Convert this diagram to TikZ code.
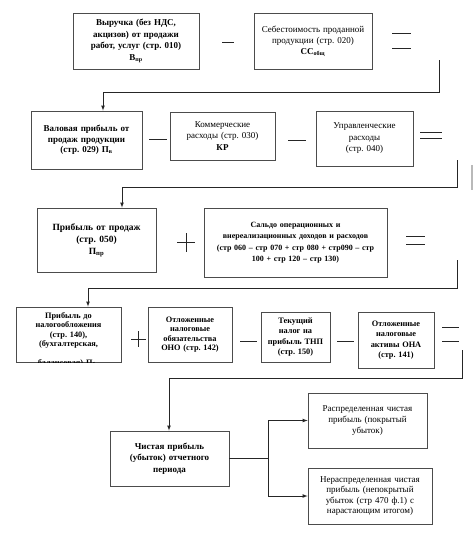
\documentclass[tikz,border=0pt]{standalone}
\usepackage{fontspec}
\setmainfont{Liberation Serif}
\frenchspacing
\begin{document}
\begin{tikzpicture}[x=1pt,y=-1pt]
			% Styles
			\tikzstyle{boite}=[draw=black!70,line width=0.8pt,inner sep=0pt,align=center]
			\tikzstyle{fleche}=[->,>=latex,line width=0.7pt,black!85]
			\tikzstyle{trait}=[-,line width=0.7pt,black!85]
			\tikzstyle{signe}=[-,line width=0.6pt,black!85]
			\tikzstyle{gras}=[font=\fontsize{9}{11.5}\selectfont\bfseries]
			\tikzstyle{maigre}=[font=\fontsize{9}{11.5}\selectfont]
			\tikzstyle{petit}=[font=\fontsize{8.3}{9.5}\selectfont\bfseries]
			% Cadre
			\useasboundingbox (0,0) rectangle (474,539);
			% Noeuds
			\node[boite,gras,minimum width=126pt,minimum height=56pt,text width=122pt] (Vpr) at (136,41) {Выручка (без НДС,\\ акцизов) от продажи\\ работ, услуг (стр. 010)\\ В\textsubscript{пр}};
			\node[boite,maigre,font=\fontsize{9}{11}\selectfont,minimum width=118pt,minimum height=56pt,text width=116pt] (CC) at (313,41) {Себестоимость проданной\\ продукции (стр. 020)\\ \textbf{СС\textsubscript{общ}}};
			%
			\node[boite,gras,font=\fontsize{9}{10.5}\selectfont\bfseries,minimum width=111pt,minimum height=58pt,text width=107pt] (Pv) at (86.5,140) {Валовая прибыль от\\ продаж продукции\\ (стр. 029) П\textsubscript{в}};
			\node[boite,maigre,minimum width=105pt,minimum height=48pt,text width=101pt] (KR) at (222.5,136) {Коммерческие\\ расходы (стр. 030)\\ \textbf{КР}};
			\node[boite,maigre,minimum width=97pt,minimum height=55pt,text width=93pt] (UR) at (364.5,138.5) {Управленческие\\ расходы\\ (стр. 040)};
			%
			\node[boite,gras,font=\fontsize{9.5}{12}\selectfont\bfseries,minimum width=119pt,minimum height=64pt,text width=115pt] (Ppr) at (96.5,240) {Прибыль от продаж\\ (стр. 050)\\ П\textsubscript{пр}};
			\node[boite,gras,font=\fontsize{8}{11.5}\selectfont\bfseries,minimum width=183pt,minimum height=69pt,text width=179pt] (Saldo) at (295.5,242.5) {Сальдо операционных и\\ внереализационных доходов и расходов\\ (стр 060 – стр 070 + стр 080 + стр090 – стр\\ 100 + стр 120 – стр 130)};
			%
			\node[boite,minimum width=105pt,minimum height=55pt] (Pdn) at (68.5,334.5) {};
			\begin{scope}
				\clip (Pdn.north west) rectangle (Pdn.south east);
				\node[petit,anchor=north,inner sep=0pt,align=center,text width=101pt] (Pdntxt) at (68.5,312) {Прибыль до\\ налогообложения\\ (стр. 140),\\ (бухгалтерская,\\[9pt] балансовая) П\textsubscript{бп}};
			\end{scope}
			\node[boite,petit,minimum width=84pt,minimum height=55pt,text width=82pt] (ONO) at (190,334.5) {Отложенные\\ налоговые\\ обязательства\\ ОНО (стр. 142)};
			\node[boite,petit,font=\fontsize{8.3}{10.3}\selectfont\bfseries,minimum width=69pt,minimum height=50pt,text width=67pt] (TNP) at (295.5,337) {Текущий\\ налог на\\ прибыль ТНП\\ (стр. 150)};
			\node[boite,petit,font=\fontsize{8.3}{10.3}\selectfont\bfseries,minimum width=76pt,minimum height=56pt,text width=74pt] (ONA) at (396,340) {Отложенные\\ налоговые\\ активы ОНА\\ (стр. 141)};
			%
			\node[boite,gras,minimum width=119pt,minimum height=55pt,text width=115pt] (ChP) at (169.5,458.5) {Чистая прибыль\\ (убыток) отчетного\\ периода};
			\node[boite,maigre,font=\fontsize{9}{11}\selectfont,minimum width=119pt,minimum height=55pt,text width=117pt] (RChP) at (367.5,420.5) {Распределенная чистая\\ прибыль (покрытый\\ убыток)};
			\node[boite,maigre,font=\fontsize{9}{10.5}\selectfont,minimum width=124pt,minimum height=56pt,text width=122pt] (NChP) at (370,496) {Нераспределенная чистая\\ прибыль (непокрытый\\ убыток (стр 470 ф.1) с\\ нарастающим итогом)};
			% Signes
			\draw[signe] (222,42) -- (234,42);
			\draw[signe] (392,33) -- (411,33);
			\draw[signe] (392,48) -- (411,48);
			\draw[signe] (149,139) -- (167,139);
			\draw[signe] (288,140) -- (306,140);
			\draw[signe] (420,132) -- (442,132);
			\draw[signe] (420,138) -- (442,138);
			\draw[signe] (177,242) -- (195,242);
			\draw[signe] (186,233) -- (186,252);
			\draw[signe] (406,236) -- (425,236);
			\draw[signe] (406,244) -- (425,244);
			\draw[signe] (131,339) -- (146,339);
			\draw[signe] (138.5,331) -- (138.5,347);
			\draw[signe] (240,341) -- (257,341);
			\draw[signe] (337,341) -- (354,341);
			\draw[signe] (442,327) -- (459,327);
			\draw[signe] (442,341) -- (459,341);
			\draw[gray!55,line width=1.4pt] (472,165) -- (472,190);
			% Arcs
			\coordinate (Vd) at (439,60);
			\coordinate (Va) at (103,92);
			\draw[fleche] (Vd) |- (Va) -- (Va |- Pv.north);
			\coordinate (Ud) at (457,160);
			\coordinate (Ua) at (122,187);
			\draw[fleche] (Ud) |- (Ua) -- (Ua |- Ppr.north);
			\coordinate (Sd) at (457,260);
			\coordinate (Sa) at (88,288);
			\draw[fleche] (Sd) |- (Sa) -- (Sa |- Pdn.north);
			\coordinate (Od) at (462,350);
			\coordinate (Oa) at (169,378);
			\draw[fleche] (Od) |- (Oa) -- (Oa |- ChP.north);
			\coordinate (emb) at (268,458.5);
			\draw[trait] (ChP.east) -- (emb);
			\draw[fleche] (emb) |- (RChP.west);
			\draw[fleche] (emb) |- (NChP.west);
		\end{tikzpicture}
\end{document}
